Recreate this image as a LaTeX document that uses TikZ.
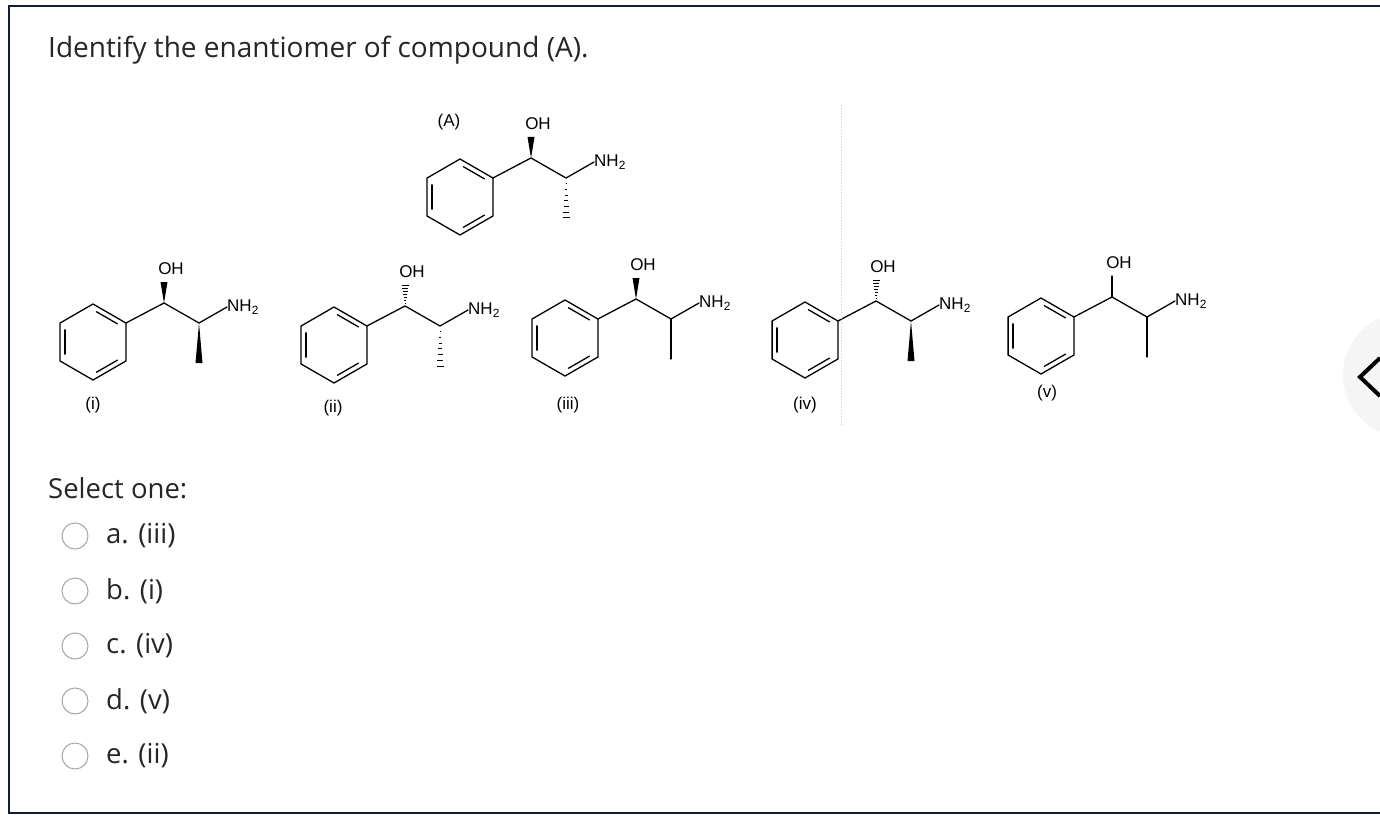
\documentclass[tikz,border=0pt]{standalone}
\usepackage{fontspec}
\setmainfont{Open Sans}
\newfontfamily\chem{Liberation Sans}
\usetikzlibrary{calc}
\begin{document}
\begin{tikzpicture}[x=1pt,y=-1pt,
  bond/.style={line width=1.3pt,line cap=round},
  lab/.style={inner sep=0pt,font=\chem\fontsize{17}{17}\selectfont},
  opt/.style={anchor=west,inner sep=0pt,font=\fontsize{27.5}{27.5}\selectfont,text=black!85},
  radio/.style={draw=black!35,line width=1pt,fill=white}]
\useasboundingbox (0,0) rectangle (1380,818);
\fill[white] (0,0) rectangle (1380,818);
\draw[line width=1.5pt,color={rgb,255:red,16;green,30;blue,54}] (1380,6) -- (9,6) -- (9,813) -- (1380,813);
\node[anchor=west,inner sep=0pt,font=\fontsize{28}{28}\selectfont,text=black!85] (title) at (48,50) {Identify the enantiomer of compound (A).};
\newcommand{\stereob}[3]{%
  \ifx#1w\fill (0,#2) -- (-3.5,#3) -- (3.5,#3) -- cycle;\fi
  \ifx#1h\foreach \k in {1,...,7}{\draw[line width=1pt] ({-0.5*\k},{#2+(#3-#2)*\k/7}) -- ({0.5*\k},{#2+(#3-#2)*\k/7});}\fi
  \ifx#1p\draw[bond] (0,#2) -- (0,#3);\fi}
\newcommand{\mymol}[5]{%
\begin{scope}[shift={(#1,#2)}]
  \draw[bond] (-90:38) -- (-30:38) -- (30:38) -- (90:38) -- (150:38) -- (-150:38) -- cycle;
  \draw[bond] ($(-90:38)!0.18!(-30:38)+(-2.5,4.3)$) -- ($(-90:38)!0.82!(-30:38)+(-2.5,4.3)$);
  \draw[bond] ($(30:38)!0.18!(90:38)+(-2.5,-4.3)$) -- ($(30:38)!0.82!(90:38)+(-2.5,-4.3)$);
  \draw[bond] ($(150:38)!0.18!(-150:38)+(5,0)$) -- ($(150:38)!0.82!(-150:38)+(5,0)$);
  \coordinate (#5c1) at (71,-39);
  \coordinate (#5c2) at (106,-19);
  \draw[bond] (-30:38) -- (#5c1) -- (#5c2) -- (134,-35);
  \begin{scope}[shift={(71,0)}]\stereob{#3}{-39}{-60}\end{scope}
  \begin{scope}[shift={(106,0)}]\stereob{#4}{-19}{21}\end{scope}
  \node[lab] (#5oh) at (78,-73) {OH};
  \node[lab,anchor=west] (#5nh) at (134,-35) {NH\textsubscript{2}};
\end{scope}}
\mymol{460}{197}{w}{h}{A}
\node[lab] (labA) at (449,122) {(A)};
\mymol{93}{342}{w}{w}{m1}
\node[lab] (l1) at (93,405) {(i)};
\mymol{334}{345}{h}{h}{m2}
\node[lab] (l2) at (333,408) {(ii)};
\mymol{565}{338}{w}{p}{m3}
\node[lab] (l3) at (568,405) {(iii)};
\mymol{805}{340}{h}{w}{m4}
\node[lab] (l4) at (805,405) {(iv)};
\mymol{1041}{336}{p}{p}{m5}
\node[lab] (l5) at (1047,393) {(v)};
\draw[dotted,line width=0.8pt,color=green!30!black!25] (841,105) -- (841,425);
\fill[black!4] (1405,375) circle (62);
\draw[line width=4pt] (1380,358) -- (1360,377) -- (1380,396);
\node[opt] (sel) at (48,488) {Select one:};
\foreach \y/\t [count=\i] in {536/a. (iii),591/b. (i),646/c. (iv),701/d. (v),756/e. (ii)}{
  \draw[radio] (75,\y) circle (13);
  \node[opt] (o\i) at (106,\y) {\t};}
\end{tikzpicture}
\end{document}
